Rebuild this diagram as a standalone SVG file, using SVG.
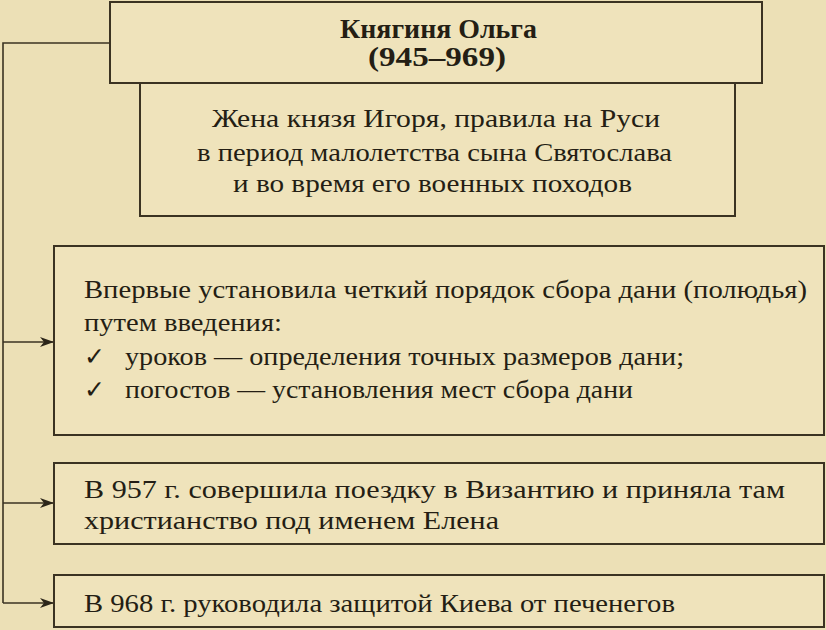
<svg xmlns="http://www.w3.org/2000/svg" width="826" height="630" viewBox="0 0 826 630">
<style>
.box{fill:#efe3bb;stroke:#3b3322;stroke-width:2}
.t{font-family:'Liberation Serif','Times New Roman',Tinos,'DejaVu Serif',serif;font-size:25px;fill:#241e14}
.b{font-weight:bold;font-size:28px}
.ln{fill:none;stroke:#3b3322;stroke-width:1.6}
</style>
<defs>
<marker id="ah" markerWidth="14" markerHeight="10" refX="13" refY="5" orient="auto" markerUnits="userSpaceOnUse">
<path d="M0,0 L14,5 L0,10 L4,5 Z" fill="#2b2519"/>
</marker>
</defs>
<rect width="826" height="630" fill="#ece0b6"/>
<g id="connectors">
<path class="ln" d="M110,43 H3 V603"/>
<path class="ln" d="M3,342 H53" marker-end="url(#ah)"/>
<path class="ln" d="M3,503 H53" marker-end="url(#ah)"/>
<path class="ln" d="M3,603 H53" marker-end="url(#ah)"/>
</g>
<g id="desc">
<rect class="box" x="140" y="83" width="595" height="133"/>
<text class="t" x="212" y="127" textLength="448" lengthAdjust="spacingAndGlyphs">Жена князя Игоря, правила на Руси</text>
<text class="t" x="197" y="161" textLength="475" lengthAdjust="spacingAndGlyphs">в период малолетства сына Святослава</text>
<text class="t" x="233" y="192" textLength="399" lengthAdjust="spacingAndGlyphs">и во время его военных походов</text>
</g>
<g id="title">
<rect class="box" x="110" y="2" width="652" height="81"/>
<text class="t b" x="340" y="38" textLength="197" lengthAdjust="spacingAndGlyphs">Княгиня Ольга</text>
<text class="t b" x="368" y="66" textLength="138" lengthAdjust="spacingAndGlyphs">(945–969)</text>
</g>
<g id="tribute">
<rect class="box" x="54" y="246" width="770" height="189"/>
<text class="t" x="84" y="298" textLength="723" lengthAdjust="spacingAndGlyphs">Впервые установила четкий порядок сбора дани (полюдья)</text>
<text class="t" x="84" y="331" textLength="198" lengthAdjust="spacingAndGlyphs">путем введения:</text>
<text class="t" x="84" y="365">✓</text>
<text class="t" x="125" y="365" textLength="559" lengthAdjust="spacingAndGlyphs">уроков — определения точных размеров дани;</text>
<text class="t" x="84" y="398">✓</text>
<text class="t" x="125" y="398" textLength="508" lengthAdjust="spacingAndGlyphs">погостов — установления мест сбора дани</text>
</g>
<g id="byzantium">
<rect class="box" x="54" y="463" width="770" height="81"/>
<text class="t" x="84" y="498" textLength="701" lengthAdjust="spacingAndGlyphs">В 957 г. совершила поездку в Византию и приняла там</text>
<text class="t" x="84" y="529" textLength="415" lengthAdjust="spacingAndGlyphs">христианство под именем Елена</text>
</g>
<g id="kiev">
<rect class="box" x="54" y="575" width="770" height="52"/>
<text class="t" x="84" y="612" textLength="591" lengthAdjust="spacingAndGlyphs">В 968 г. руководила защитой Киева от печенегов</text>
</g>
</svg>
